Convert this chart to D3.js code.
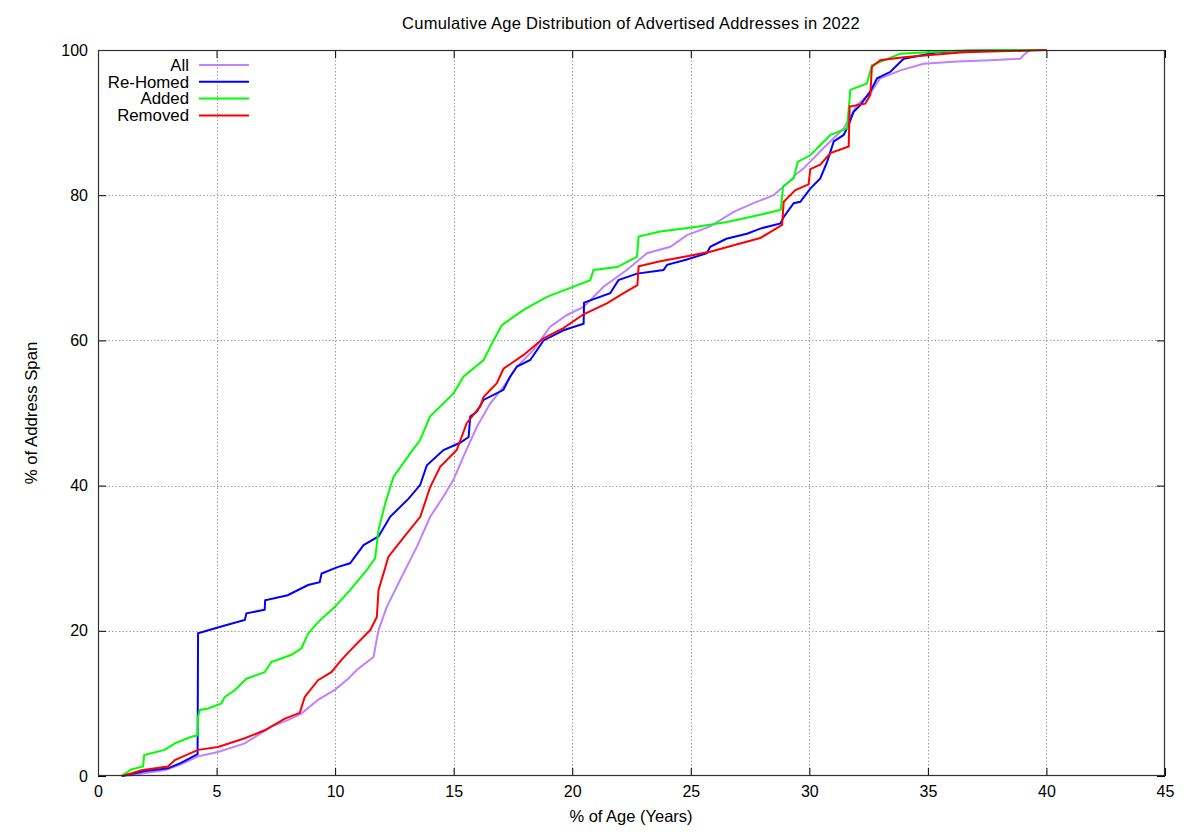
<!DOCTYPE html>
<html>
<head>
<meta charset="utf-8">
<script src="https://cdn.jsdelivr.net/npm/d3@7"></script>
<style>
  body { margin: 0; background: #fff; }
  text { font-family: "Liberation Sans", Arial, sans-serif; fill: #000; }
</style>
</head>
<body>
<svg id="chart" width="1190" height="834"></svg>
<script>
// ---- data ----
const title = "Cumulative Age Distribution of Advertised Addresses in 2022";
const xLabel = "% of Age (Years)";
const yLabel = "% of Address Span";
const xTicks = [0, 5, 10, 15, 20, 25, 30, 35, 40, 45];
const yTicks = [0, 20, 40, 60, 80, 100];
const seriesNames = ["All", "Re-Homed", "Added", "Removed"];
const seriesColors = ["#c080ff", "#0000ff", "#00ff00", "#ff0000"];

const allSeries = [[1.0,0],[1.41,0.1],[2.0,0.4],[2.81,0.8],[3.5,1.6],[4.22,2.7],[5.06,3.3],[6.19,4.5],[7.31,6.8],[8.0,7.7],[8.58,8.6],[9.28,10.5],[10.0,11.9],[10.55,13.4],[10.91,14.6],[11.62,16.4],[11.83,20.1],[12.18,23.3],[12.74,27.0],[13.45,31.6],[14.01,35.7],[14.57,38.5],[14.99,40.8],[15.41,44.0],[15.98,48.1],[16.54,51.3],[17.1,53.6],[17.67,56.4],[18.37,58.7],[19.07,61.9],[19.78,63.5],[20.48,64.6],[21.32,67.4],[22.3,69.7],[23.15,72.0],[24.14,72.9],[24.84,74.5],[25.82,75.7],[26.81,77.7],[27.65,78.9],[28.49,80.0],[29.06,81.6],[29.48,83.0],[29.76,83.7],[30.6,86.5],[31.45,89.2],[32.0,92.4],[32.57,94.0],[32.99,96.1],[33.84,97.2],[34.82,98.1],[36.23,98.4],[37.64,98.6],[38.9,98.8],[39.04,99.3],[39.3,100],[40.0,100]];

const reHomed = [[0.98,0],[2.0,0.7],[2.95,1.06],[3.5,1.8],[4.2,3.0],[4.22,19.65],[5.2,20.6],[6.19,21.5],[6.26,22.4],[7.03,22.9],[7.05,24.2],[8.0,24.9],[8.86,26.3],[9.35,26.7],[9.43,27.9],[10.13,28.8],[10.63,29.3],[11.2,31.8],[11.83,33.0],[12.32,35.7],[13.1,38.2],[13.59,40.1],[13.87,42.8],[14.57,44.9],[15.27,45.9],[15.63,46.7],[15.7,49.5],[15.98,50.2],[16.26,51.8],[17.1,53.2],[17.38,55.0],[17.67,56.4],[18.23,57.3],[18.79,60.0],[19.63,61.4],[20.48,62.3],[20.5,65.2],[21.6,66.5],[21.95,68.3],[22.73,69.2],[23.85,69.7],[24.0,70.4],[24.8,71.1],[25.68,72.0],[25.82,72.9],[26.5,74.0],[27.37,74.7],[27.93,75.4],[28.78,76.1],[28.92,77.0],[29.34,78.9],[29.62,79.1],[30.04,80.9],[30.46,82.3],[30.75,84.6],[31.03,87.4],[31.45,88.3],[31.66,89.7],[31.87,91.5],[32.15,92.4],[32.57,94.3],[32.86,96.1],[33.42,97.0],[33.98,98.8],[35.39,99.7],[36.65,99.9],[39.5,100],[40.0,100]];

const added = [[0.98,0],[1.41,0.9],[1.9,1.3],[1.95,2.9],[2.81,3.6],[3.24,4.5],[3.94,5.4],[4.2,5.6],[4.22,8.2],[4.3,9.1],[4.64,9.3],[5.2,10.0],[5.35,10.9],[5.77,11.8],[6.26,13.4],[7.03,14.3],[7.31,15.7],[8.16,16.7],[8.58,17.6],[8.86,19.6],[9.28,21.2],[9.99,23.3],[10.63,25.6],[11.34,28.4],[11.69,30.0],[11.83,33.9],[12.11,37.5],[12.46,41.2],[13.16,44.4],[13.59,46.3],[14.0,49.5],[14.99,52.7],[15.41,55.0],[16.26,57.3],[16.68,60.0],[17.03,62.1],[17.95,64.2],[18.93,66.0],[20.06,67.4],[20.76,68.3],[20.9,69.7],[21.89,70.1],[22.73,71.5],[22.8,74.3],[23.71,75.0],[25.12,75.6],[26.53,76.3],[27.93,77.3],[28.8,78.0],[28.89,81.2],[29.34,82.3],[29.51,84.6],[30.04,85.5],[30.89,88.3],[31.59,89.2],[31.73,94.5],[32.43,95.4],[32.64,97.9],[33.84,99.5],[36.23,99.9],[38.0,100],[40.0,100]];

const removed = [[1.05,0],[1.83,0.8],[2.95,1.3],[3.24,2.2],[4.22,3.6],[5.06,4.0],[6.19,5.2],[7.03,6.3],[7.88,7.9],[8.51,8.7],[8.72,10.9],[9.28,13.2],[9.84,14.3],[10.27,16.0],[10.55,17.0],[11.48,20.1],[11.76,21.9],[11.83,25.6],[12.25,30.2],[13.02,33.4],[13.59,35.7],[14.01,39.8],[14.43,42.6],[15.13,44.9],[15.55,48.6],[16.12,50.9],[16.26,52.2],[16.82,54.1],[17.1,56.1],[17.95,58.0],[18.79,60.3],[19.63,61.7],[20.48,63.6],[21.46,65.1],[22.17,66.5],[22.75,67.6],[22.8,70.2],[23.71,70.9],[24.84,71.6],[25.82,72.2],[26.81,73.1],[27.93,74.1],[28.49,75.2],[28.85,75.9],[28.92,79.1],[29.41,80.7],[29.97,81.5],[30.04,83.6],[30.46,84.2],[30.89,85.8],[31.66,86.7],[31.7,92.2],[32.36,92.6],[32.57,93.8],[32.64,97.7],[32.99,98.6],[33.98,99.0],[36.51,99.7],[39.0,99.9],[40.0,100]];

const seriesData = [allSeries, reHomed, added, removed];

// ---- layout ----
const svg = d3.select("#chart");
const L = 98, R = 1165, T = 50, B = 776;
const x = d3.scaleLinear().domain([0, 45]).range([L, R]);
const y = d3.scaleLinear().domain([0, 100]).range([B, T]);

// grid
const grid = svg.append("g").attr("stroke", "#a0a0a0").attr("stroke-width", 1).attr("stroke-dasharray", "1.5,2");
grid.selectAll(".gx").data(xTicks.filter(d => d > 0 && d < 45)).join("line")
  .attr("x1", d => Math.round(x(d)) + 0.5).attr("x2", d => Math.round(x(d)) + 0.5)
  .attr("y1", T).attr("y2", B);
grid.selectAll(".gy").data(yTicks.filter(d => d > 0 && d < 100)).join("line")
  .attr("y1", d => Math.round(y(d)) + 0.5).attr("y2", d => Math.round(y(d)) + 0.5)
  .attr("x1", L).attr("x2", R);

// axes (ticks inward, mirrored)
const tl = 8;
const axB = svg.append("g").attr("transform", `translate(0,${B})`)
  .call(d3.axisBottom(x).tickValues(xTicks).tickSize(-tl).tickPadding(10).tickFormat(d3.format("d")));
const axT = svg.append("g").attr("transform", `translate(0,${T})`)
  .call(d3.axisTop(x).tickValues(xTicks).tickSize(-tl).tickFormat(""));
const axL = svg.append("g").attr("transform", `translate(${L},0)`)
  .call(d3.axisLeft(y).tickValues(yTicks).tickSize(-tl).tickPadding(10).tickFormat(d3.format("d")));
const axR = svg.append("g").attr("transform", `translate(${R},0)`)
  .call(d3.axisRight(y).tickValues(yTicks).tickSize(-tl).tickFormat(""));
[axB, axT, axL, axR].forEach(a => {
  a.select(".domain").remove();
  a.selectAll(".tick line").attr("stroke", "#000").attr("stroke-width", 1);
  a.selectAll("text").attr("font-size", 16).attr("font-family", "Liberation Sans, Arial, sans-serif").attr("fill", "#000");
});

// series
const line = d3.line().x(d => x(d[0])).y(d => y(d[1])).curve(d3.curveLinear);
svg.append("g").selectAll("path").data(seriesData).join("path")
  .attr("d", d => line(d))
  .attr("fill", "none")
  .attr("stroke", (d, i) => seriesColors[i])
  .attr("stroke-width", 2)
  .attr("stroke-linejoin", "miter");

// frame
svg.append("rect").attr("x", L + 0.5).attr("y", T + 0.5).attr("width", R - L - 1).attr("height", B - T - 1)
  .attr("fill", "none").attr("stroke", "#303030").attr("stroke-width", 1.2);

// legend
const leg = svg.append("g");
seriesNames.forEach((n, i) => {
  const yy = 65 + i * 16.8;
  leg.append("text").attr("x", 189).attr("y", yy).attr("dy", "0.35em")
    .attr("text-anchor", "end").attr("font-size", 16.8).text(n);
  leg.append("line").attr("x1", 199).attr("x2", 249).attr("y1", yy).attr("y2", yy)
    .attr("stroke", seriesColors[i]).attr("stroke-width", 2);
});

// titles
svg.append("text").attr("x", 631).attr("y", 29).attr("text-anchor", "middle").attr("font-size", 16.5)
  .attr("letter-spacing", "0.25px").text(title);
svg.append("text").attr("x", 631).attr("y", 822).attr("text-anchor", "middle").attr("font-size", 16.5).text(xLabel);
svg.append("text").attr("transform", "translate(37,413) rotate(-90)").attr("text-anchor", "middle").attr("font-size", 16.8).text(yLabel);
</script>
</body>
</html>
